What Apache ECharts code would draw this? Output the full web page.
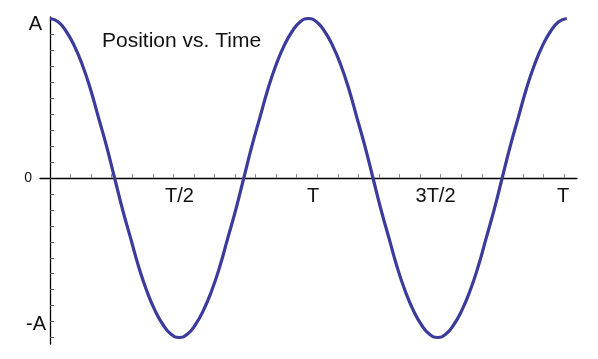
<!DOCTYPE html>
<html>
<head>
<meta charset="utf-8">
<script src="https://cdn.jsdelivr.net/npm/echarts@6/dist/echarts.min.js"></script>
<style>
html,body{margin:0;padding:0;background:#fff;}
#c{width:598px;height:359px;}
</style>
</head>
<body>
<div id="c"></div>
<script>
// Time (axis units) and position values
var times = [0, 0.393, 0.785, 1.178, 1.571, 1.963, 2.356, 2.749, 3.142, 3.534, 3.927, 4.320, 4.712, 5.105, 5.498, 5.890,
             6.283, 6.676, 7.069, 7.461, 7.854, 8.247, 8.639, 9.032, 9.425, 9.817, 10.210, 10.603, 10.996, 11.388, 11.781, 12.174,
             12.566, 12.959, 13.352, 13.744, 14.137, 14.530, 14.923, 15.315, 15.708, 16.101, 16.493, 16.886, 17.279, 17.671, 18.064, 18.457,
             18.850, 19.242, 19.635, 20.028, 20.420, 20.813, 21.206, 21.598, 21.991, 22.384, 22.777, 23.169, 23.562, 23.955, 24.347, 24.740,
             25.133];
var positions = [1.00, 0.98, 0.92, 0.83, 0.71, 0.56, 0.38, 0.20, 0.00, -0.20, -0.38, -0.56, -0.71, -0.83, -0.92, -0.98,
                 -1.00, -0.98, -0.92, -0.83, -0.71, -0.56, -0.38, -0.20, 0.00, 0.20, 0.38, 0.56, 0.71, 0.83, 0.92, 0.98,
                 1.00, 0.98, 0.92, 0.83, 0.71, 0.56, 0.38, 0.20, 0.00, -0.20, -0.38, -0.56, -0.71, -0.83, -0.92, -0.98,
                 -1.00, -0.98, -0.92, -0.83, -0.71, -0.56, -0.38, -0.20, 0.00, 0.20, 0.38, 0.56, 0.71, 0.83, 0.92, 0.98,
                 1.00];

// tick marks
var xTickValues = [1,2,3,4,5,6,7,8,9,10,11,12,13,14,15,16,17,18,19,20,21,22,23,24,25];
var yTickValues = [1,0.9,0.8,0.7,0.6,0.5,0.4,0.3,0.2,0.1,-0.1,-0.2,-0.3,-0.4,-0.5,-0.6,-0.7,-0.8,-0.9,-1];

// tick labels
var xLabelValues = [6.3, 12.8, 18.75, 24.95];
var xLabelTexts = ['T/2', 'T', '3T/2', 'T'];
var yLabelValues = [0.96, 0, -0.92];
var yLabelTexts = ['{a|A}', '{z|0}', '{m|-A}'];

var title = 'Position vs. Time';

var data = times.map(function (t, i) { return [t, positions[i]]; });

var X_MIN = -0.486, X_MAX = 25.63, Y_MIN = -1.0407, Y_MAX = 1.0094;

var chart = echarts.init(document.getElementById('c'), null, {renderer: 'canvas'});
var font = 'Liberation Sans, Arial, Helvetica, sans-serif';
chart.setOption({
  animation: false,
  backgroundColor: '#ffffff',
  title: {
    text: title,
    left: 102,
    top: 31,
    padding: 0,
    textStyle: {fontFamily: font, fontSize: 21, fontWeight: 'normal', color: '#111'}
  },
  grid: [
    {left: 40, right: 21, top: 17, bottom: 15, containLabel: false, outerBoundsMode: 'none'},
    // upper half grid: places the time labels just under the zero line
    {left: 40, right: 21, top: 17, height: 161, containLabel: false, outerBoundsMode: 'none'},
    // grid starting at the vertical axis: places the position labels beside it
    {left: 50, right: 21, top: 17, bottom: 15, containLabel: false, outerBoundsMode: 'none'}
  ],
  xAxis: [{
    type: 'value',
    gridIndex: 0,
    min: X_MIN,
    max: X_MAX,
    splitLine: {show: false},
    axisLine: {onZero: true, lineStyle: {color: '#000', width: 1.3}},
    axisTick: {show: true, inside: true, length: 4, customValues: xTickValues, lineStyle: {color: '#8a8a8a', width: 1}},
    axisLabel: {show: false}
  }, {
    type: 'value',
    gridIndex: 1,
    min: X_MIN,
    max: X_MAX,
    position: 'bottom',
    splitLine: {show: false},
    axisLine: {show: false, onZero: false},
    axisTick: {show: false},
    axisLabel: {
      customValues: xLabelValues,
      margin: 8,
      hideOverlap: false,
      fontFamily: font, fontSize: 20, color: '#111',
      formatter: function (v) {
        var i = xLabelValues.indexOf(v);
        return i >= 0 ? xLabelTexts[i] : '';
      }
    }
  }, {
    type: 'value',
    gridIndex: 2,
    min: 0,
    max: X_MAX,
    show: false
  }],
  yAxis: [{
    type: 'value',
    gridIndex: 0,
    min: Y_MIN,
    max: Y_MAX,
    splitLine: {show: false},
    axisLine: {onZero: true, lineStyle: {color: '#000', width: 1.3}},
    axisTick: {show: true, inside: true, length: 4, customValues: yTickValues, lineStyle: {color: '#555', width: 1}},
    axisLabel: {show: false}
  }, {
    type: 'value',
    gridIndex: 1,
    min: 0,
    max: Y_MAX,
    show: false
  }, {
    type: 'value',
    gridIndex: 2,
    min: Y_MIN,
    max: Y_MAX,
    position: 'left',
    splitLine: {show: false},
    axisLine: {show: false, onZero: false},
    axisTick: {show: false},
    axisLabel: {
      customValues: yLabelValues,
      margin: 4,
      hideOverlap: false,
      fontFamily: font, color: '#111',
      formatter: function (v) {
        var i = yLabelValues.indexOf(v);
        return i >= 0 ? yLabelTexts[i] : '';
      },
      rich: {
        a: {fontFamily: font, fontSize: 20, color: '#111', padding: [0, 4, 0, 0]},
        z: {fontFamily: font, fontSize: 14, color: '#111', padding: [0, 14, 0, 0]},
        m: {fontFamily: font, fontSize: 20, color: '#111'}
      }
    }
  }],
  series: [{
    type: 'line',
    xAxisIndex: 0,
    yAxisIndex: 0,
    data: data,
    smooth: 0.5,
    showSymbol: false,
    symbol: 'none',
    lineStyle: {color: '#3b3b9b', width: 3.2},
    clip: false
  }]
});
</script>
</body>
</html>
